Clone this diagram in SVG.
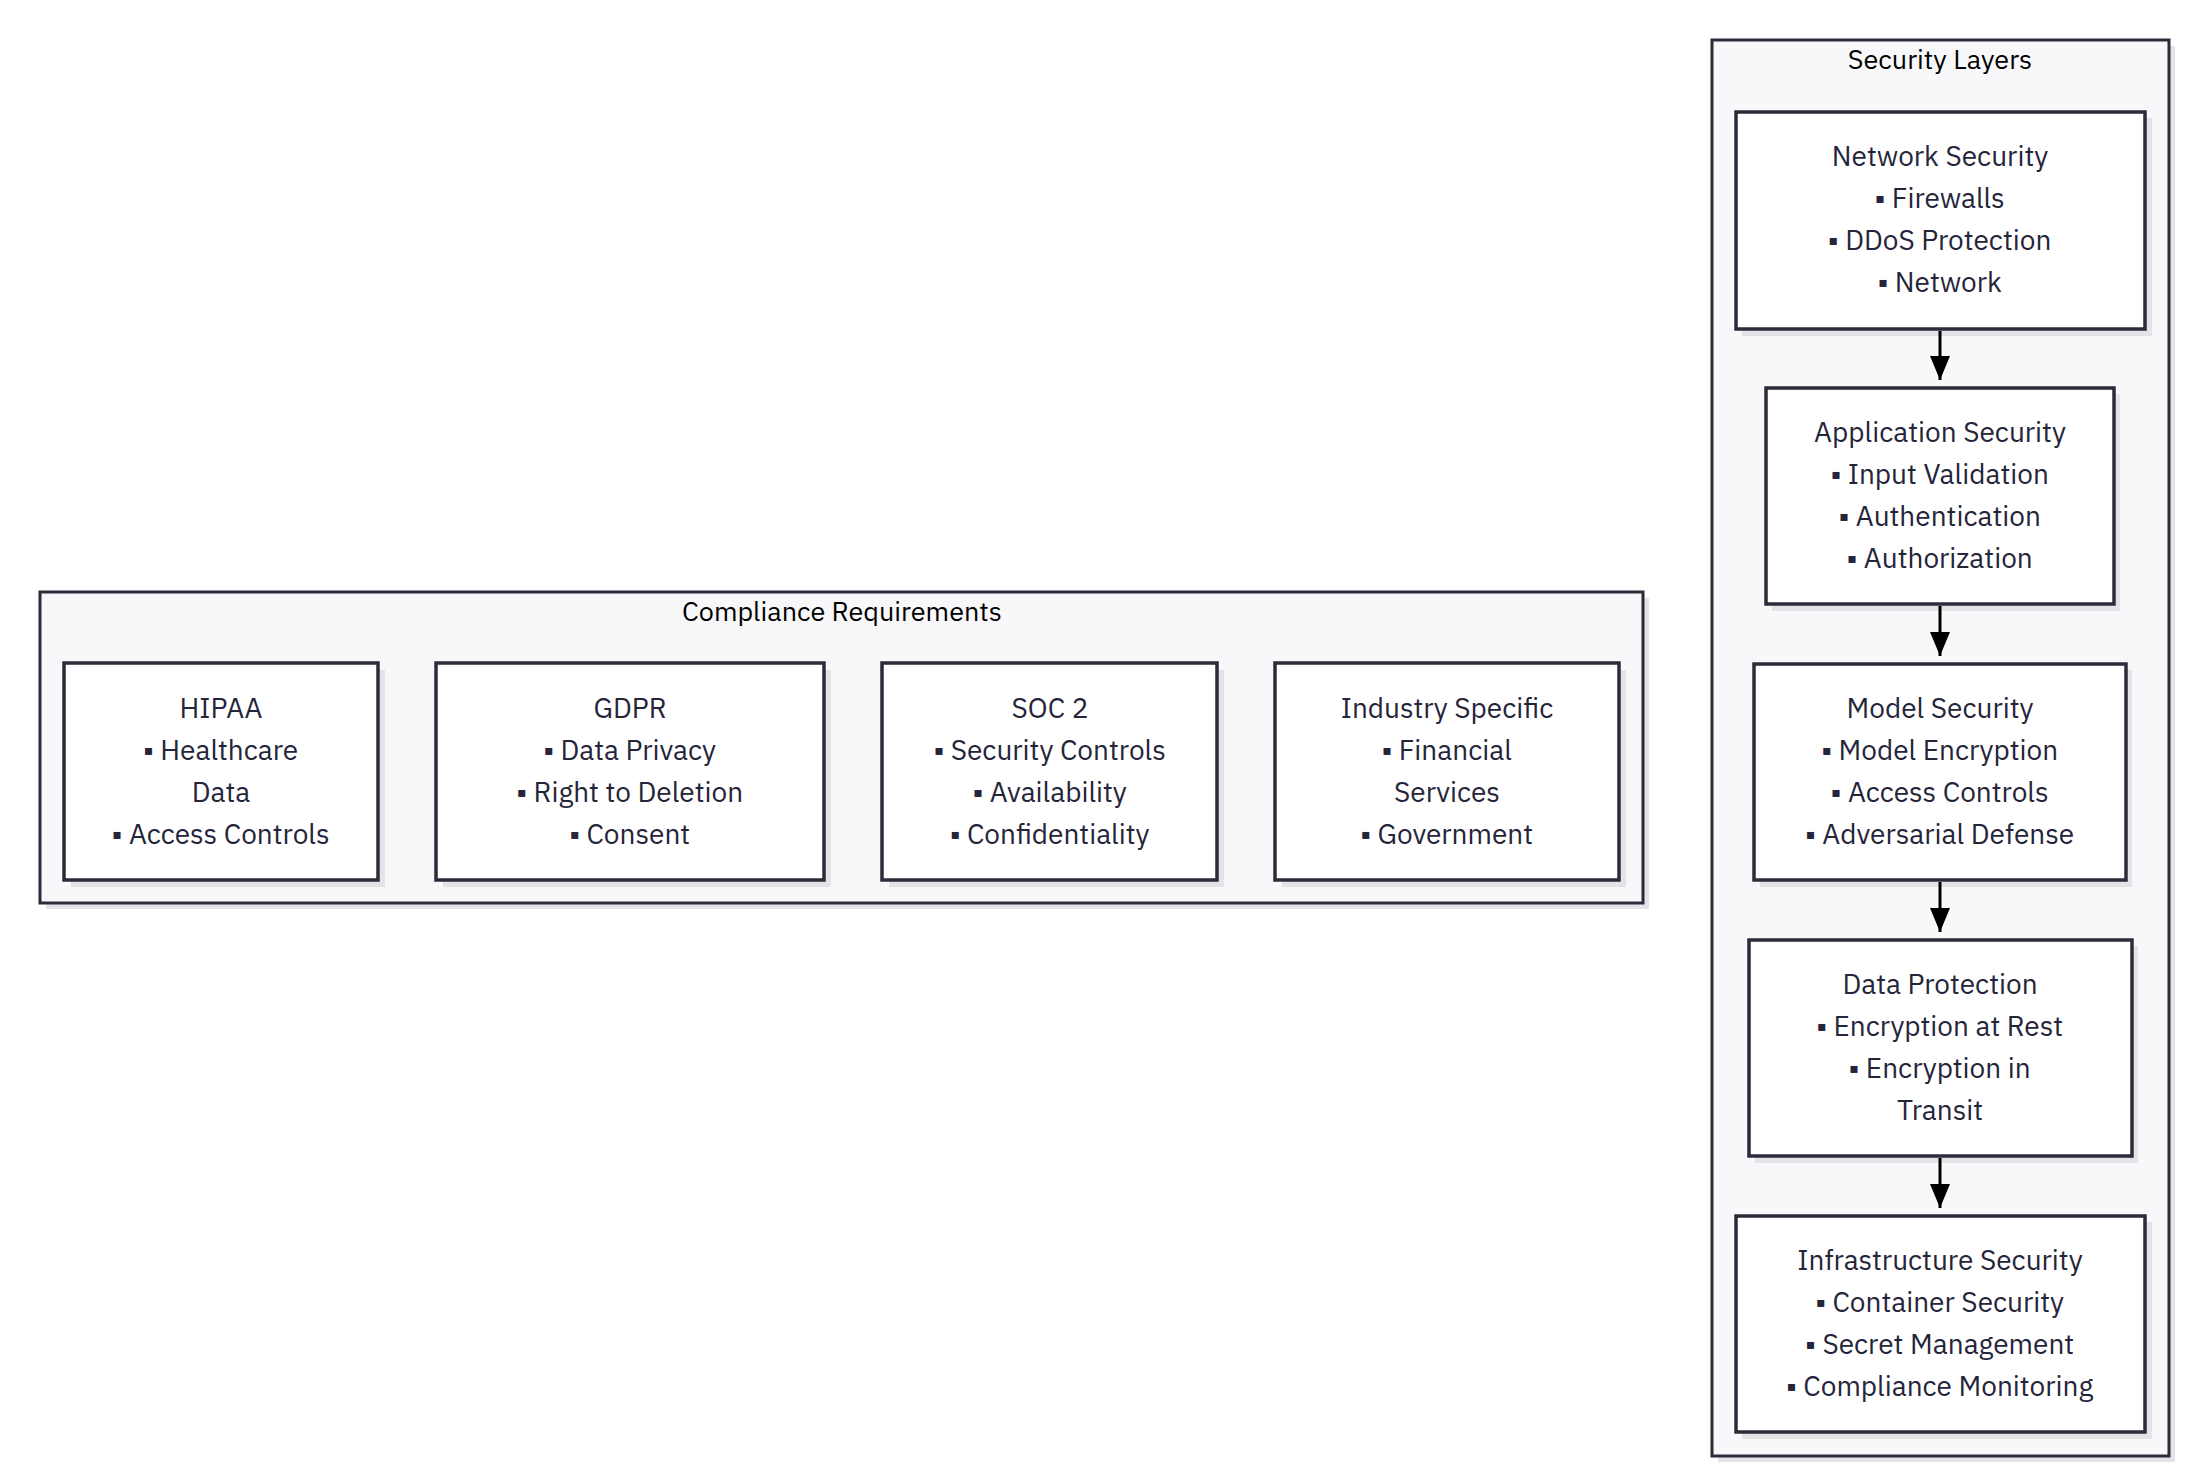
<svg xmlns="http://www.w3.org/2000/svg" width="2185" height="1472" viewBox="0 0 2185 1472">
<style>
.cl{fill:#f8f8fa;stroke:#2b2b3a;stroke-width:3}
.sh{fill:#e4e4e8}
.bx{fill:#fff;stroke:#2b2b3a;stroke-width:3.5}
.t{font-family:"IBM Plex Sans","Noto Sans","Open Sans",sans-serif;font-size:28px;fill:#25253a;text-anchor:middle;dominant-baseline:central}
.ct{font-family:"IBM Plex Sans","Noto Sans","Open Sans",sans-serif;font-size:27px;fill:#000;text-anchor:middle;dominant-baseline:central}
</style>
<defs>
<marker id="b" viewBox="0 0 24 20" refX="24" refY="10" markerWidth="24" markerHeight="20" orient="auto" markerUnits="userSpaceOnUse"><path d="M0,0L24,10L0,20z" fill="#000"/></marker></defs>
<g id="compliance">
<rect class="sh" x="46" y="598" width="1603" height="311"/>
<rect class="cl" x="40" y="592" width="1603" height="311"/>
<text class="ct" x="842" y="610">Compliance Requirements</text>
</g>
<g id="security">
<rect class="sh" x="1718" y="46" width="457" height="1416"/>
<rect class="cl" x="1712" y="40" width="457" height="1416"/>
<text class="ct" x="1940" y="58">Security Layers</text>
</g>
<g id="hipaa"><rect class="sh" x="71" y="670" width="314" height="217"/><rect class="bx" x="64" y="663" width="314" height="217"/>
<text class="t" x="221" y="707">HIPAA</text><text class="t" x="221" y="749">▪ Healthcare</text><text class="t" x="221" y="791">Data</text><text class="t" x="221" y="833">▪ Access Controls</text></g>
<g id="gdpr"><rect class="sh" x="443" y="670" width="388" height="217"/><rect class="bx" x="436" y="663" width="388" height="217"/>
<text class="t" x="630" y="707">GDPR</text><text class="t" x="630" y="749">▪ Data Privacy</text><text class="t" x="630" y="791">▪ Right to Deletion</text><text class="t" x="630" y="833">▪ Consent</text></g>
<g id="soc2"><rect class="sh" x="889" y="670" width="335" height="217"/><rect class="bx" x="882" y="663" width="335" height="217"/>
<text class="t" x="1050" y="707">SOC 2</text><text class="t" x="1050" y="749">▪ Security Controls</text><text class="t" x="1050" y="791">▪ Availability</text><text class="t" x="1050" y="833">▪ Confidentiality</text></g>
<g id="industry"><rect class="sh" x="1282" y="670" width="344" height="217"/><rect class="bx" x="1275" y="663" width="344" height="217"/>
<text class="t" x="1447" y="707">Industry Specific</text><text class="t" x="1447" y="749">▪ Financial</text><text class="t" x="1447" y="791">Services</text><text class="t" x="1447" y="833">▪ Government</text></g>
<g id="network"><rect class="sh" x="1742" y="118" width="410" height="218"/><rect class="bx" x="1736" y="112" width="409" height="217"/>
<text class="t" x="1940" y="155">Network Security</text><text class="t" x="1940" y="197">▪ Firewalls</text><text class="t" x="1940" y="239">▪ DDoS Protection</text><text class="t" x="1940" y="281">▪ Network</text></g>
<g id="application"><rect class="sh" x="1772" y="394" width="348" height="217"/><rect class="bx" x="1766" y="388" width="348" height="216"/>
<text class="t" x="1940" y="431">Application Security</text><text class="t" x="1940" y="473">▪ Input Validation</text><text class="t" x="1940" y="515">▪ Authentication</text><text class="t" x="1940" y="557">▪ Authorization</text></g>
<g id="model"><rect class="sh" x="1760" y="670" width="372" height="217"/><rect class="bx" x="1754" y="664" width="372" height="216"/>
<text class="t" x="1940" y="707">Model Security</text><text class="t" x="1940" y="749">▪ Model Encryption</text><text class="t" x="1940" y="791">▪ Access Controls</text><text class="t" x="1940" y="833">▪ Adversarial Defense</text></g>
<g id="data"><rect class="sh" x="1755" y="946" width="383" height="217"/><rect class="bx" x="1749" y="940" width="383" height="216"/>
<text class="t" x="1940" y="983">Data Protection</text><text class="t" x="1940" y="1025">▪ Encryption at Rest</text><text class="t" x="1940" y="1067">▪ Encryption in</text><text class="t" x="1940" y="1109">Transit</text></g>
<g id="infra"><rect class="sh" x="1742" y="1222" width="410" height="217"/><rect class="bx" x="1736" y="1216" width="409" height="216"/>
<text class="t" x="1940" y="1259">Infrastructure Security</text><text class="t" x="1940" y="1301">▪ Container Security</text><text class="t" x="1940" y="1343">▪ Secret Management</text><text class="t" x="1940" y="1385">▪ Compliance Monitoring</text></g>
<g id="edges" stroke="#000" stroke-width="3" fill="none">
<path d="M1940,331V380" marker-end="url(#b)"/>
<path d="M1940,606V656" marker-end="url(#b)"/>
<path d="M1940,882V932" marker-end="url(#b)"/>
<path d="M1940,1158V1208" marker-end="url(#b)"/>
</g>
</svg>
